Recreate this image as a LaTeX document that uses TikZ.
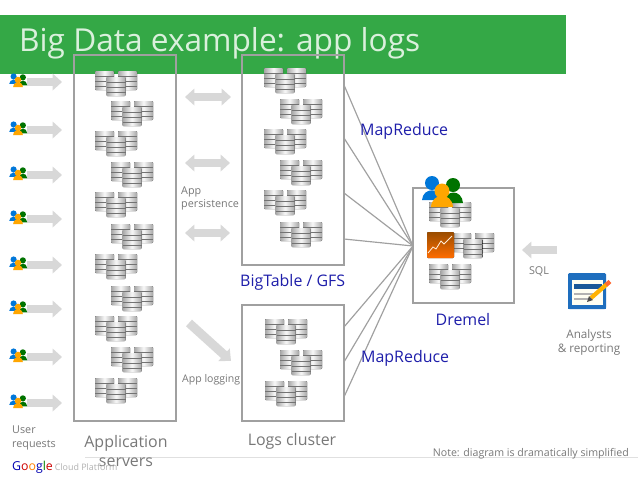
\documentclass[tikz,border=0pt]{standalone}
\usepackage{fontspec}
\setmainfont{Open Sans}
\usetikzlibrary{arrows.meta}
\definecolor{bandc}{RGB}{52,168,70}
\definecolor{titlec}{RGB}{218,240,220}
\definecolor{boxc}{RGB}{160,160,160}
\definecolor{arrc}{RGB}{216,216,216}
\definecolor{bluet}{RGB}{30,30,170}
\definecolor{grayt}{RGB}{120,120,120}
\definecolor{iconb}{RGB}{30,110,190}
\tikzset{
  box/.style={draw=boxc,line width=1.15pt,fill=none,inner sep=0pt},
  conn/.style={draw=boxc,line width=1pt},
  bigarr/.style={draw=arrc,line width=7.6pt,-{Triangle[length=8pt,width=14pt,color=arrc]}},
  bigdbl/.style={draw=arrc,line width=7.6pt,{Triangle[length=8pt,width=14pt,color=arrc]}-{Triangle[length=8pt,width=14pt,color=arrc]}},
  lbl/.style={text=grayt,inner sep=0pt,align=left,font=\fontsize{9.2}{11.2}\selectfont},
  blbl/.style={text=bluet,inner sep=0pt,font=\fontsize{13.6}{16}\selectfont},
  glbl/.style={text=grayt,inner sep=0pt,align=center,font=\fontsize{13.6}{16.2}\selectfont},
}
% cylinder: centre x, top y
\newcommand{\cyl}[2]{%
  \fill[rounded corners=0.8pt,left color=gray!70,right color=gray!70,middle color=gray!5] (#1-9.5,#2) rectangle (#1+9.5,#2+19);
  \foreach \s in {4.5,9.5,14.5}{\fill[black!55] (#1-9.5,#2+\s) rectangle (#1+9.5,#2+\s+1);}
}
% server group: centre x, top y
\newcommand{\srv}[2]{%
  \cyl{#1-11.5}{#2}\cyl{#1+11.5}{#2}\cyl{#1}{#2+6}%
}
% three people: origin, scale
\newcommand{\ppl}[3]{%
  \begin{scope}[shift={(#1,#2)},scale=#3]
    \fill[blue!45!cyan!85!black] (-10,-8) circle (7);
    \fill[blue!45!cyan!85!black] (-20,9) .. controls (-19,-4) and (-1,-4) .. (0,9) -- cycle;
    \fill[green!45!black] (11,-6) circle (7);
    \fill[green!45!black] (2,12) .. controls (3,-2) and (20,-2) .. (21,12) -- cycle;
    \fill[orange!70!yellow] (0,0) circle (7.5);
    \fill[orange!70!yellow] (-11,16) .. controls (-10,1) and (10,1) .. (11,16) -- cycle;
  \end{scope}
}
\begin{document}
\begin{tikzpicture}[x=0.3mm,y=-0.3mm]
\useasboundingbox (0,0) rectangle (638,479);
\fill[white] (0,0) rectangle (638,479);
% footer rule and band
\coordinate (ruleL) at (85,457.5); \coordinate (ruleR) at (638,457.5);
\draw[black!12,line width=0.6pt] (ruleL) -- (ruleR);
\fill[bandc] (0,15) rectangle (566,74);
\node[anchor=west,inner sep=0pt,text=titlec,font=\fontsize{27}{32}\selectfont] (title) at (19,43) {Big Data example: app logs};
% boxes
\node[box,minimum width=30.6mm,minimum height=109.8mm] (app) at (125,238) {};
\node[box,minimum width=30.6mm,minimum height=63mm] (bt) at (293,160) {};
\node[box,minimum width=30.6mm,minimum height=34.8mm] (logs) at (293,363) {};
\node[box,minimum width=30.3mm,minimum height=34.5mm] (dr) at (463.5,245.5) {};
% connectors
\coordinate (hub) at (413,246);
\foreach \n/\yy in {a/85,b/138,c/193,d/239,e/327,f/362,g/397}{
  \coordinate (s\n) at (344,\yy);
  \draw[conn] (s\n) -- (hub);
}
% servers
\foreach \x/\y in {116/71,132/101,116/131,132/162,116/192,132/224,116/254,132/286,116/316,132/347,116/378}{\srv{\x}{\y}}
\foreach \x/\y in {285/68,301/99,285/129,301/160,285/190,301/222,286/319,301/350,286/381}{\srv{\x}{\y}}
\foreach \x/\y in {450/202,473/233,450/264}{\srv{\x}{\y}}
% user rows
\foreach \n/\yy in {a/79,b/127,c/172,d/216,e/262,f/306,g/354,h/400}{
  \coordinate (u\n) at (27,\yy+3);
  \coordinate (v\n) at (62,\yy+3);
  \draw[bigarr] (u\n) -- (v\n);
  \ppl{18}{\yy+1}{0.44}
}
% double arrows
\coordinate (d1l) at (185,97); \coordinate (d1r) at (231,97);
\coordinate (d2l) at (185,163); \coordinate (d2r) at (230,163);
\coordinate (d3l) at (185,233); \coordinate (d3r) at (230,233);
\draw[bigdbl] (d1l) -- (d1r);
\draw[bigdbl] (d2l) -- (d2r);
\draw[bigdbl] (d3l) -- (d3r);
\coordinate (l1) at (189,323); \coordinate (l2) at (231,361);
\draw[bigarr] (l1) -- (l2);
\coordinate (q1) at (557,250); \coordinate (q2) at (522,250);
\draw[bigarr] (q1) -- (q2);
% big people
\ppl{442}{191}{1}
% chart
\begin{scope}
\fill[rounded corners=1pt,top color=orange!60!black,bottom color=orange!85!red] (427,232) rectangle (454,258);
\draw[white!85!orange,line width=0.7pt] (428,253) -- (433,247) -- (436,249) -- (441,241) -- (444,244) -- (452,236);
\end{scope}
% analysts icon
\fill[rounded corners=1.2pt,iconb] (568,273) rectangle (606,309);
\fill[black!6!yellow!5!white] (572,280) rectangle (603,305);
\fill[iconb!80!black] (574,284) rectangle (602,289);
\fill[gray!60] (574,293) rectangle (596,294.5);
\fill[gray!60] (574,298) rectangle (590,299.5);
\fill[iconb] (568,305) rectangle (606,309);
\draw[orange!60!yellow,line width=3.6pt] (591,298) -- (607,284);
\draw[red!45!orange!80,line width=3.6pt] (606,285) -- (610,281.5);
\fill[black!70] (587,302) -- (589,296) -- (593,300) -- cycle;
% labels
\node[blbl,anchor=west] (mr1) at (360,131.5) {MapReduce};
\node[blbl,anchor=west] (mr2) at (361,358.5) {MapReduce};
\node[blbl,anchor=west] (btl) at (240,282) {BigTable / GFS};
\node[blbl] (drl) at (463,320) {Dremel};
\node[glbl] (appl) at (126,451) {Application\\servers};
\node[glbl] (logl) at (292,441.5) {Logs cluster};
\node[lbl,anchor=west] (apl) at (181,198) {App\\persistence};
\node[lbl,anchor=west,font=\fontsize{9}{11}\selectfont] (algl) at (182,379.5) {App logging};
\node[lbl,anchor=west] (url) at (12,438) {User\\requests};
\node[lbl] (sql) at (539,272) {SQL};
\node[lbl,align=center,font=\fontsize{10}{12}\selectfont] (anl) at (589,342) {Analysts\\\& reporting};
\node[lbl,anchor=east,font=\fontsize{9.05}{10}\selectfont] (note) at (629,454) {Note: diagram is dramatically simplified};
\node[anchor=west,inner sep=0pt,font=\fontsize{10.5}{12}\selectfont] (goog) at (12,467) {\textcolor{blue!70!black}{G}\textcolor{red!80!black}{o}\textcolor{orange}{o}\textcolor{blue!70!black}{g}\textcolor{green!50!black}{l}\textcolor{red!80!black}{e}\,\textcolor{gray!60}{\fontsize{7.6}{10}\selectfont Cloud Platform}};
\end{tikzpicture}
\end{document}
